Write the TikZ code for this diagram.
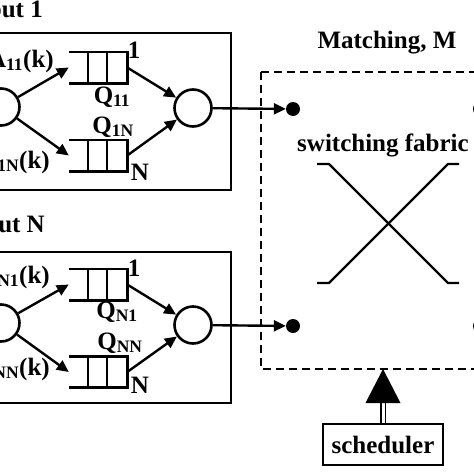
\documentclass[tikz,border=0pt]{standalone}
\usepackage{fontspec}
\setmainfont{Liberation Serif}
\usetikzlibrary{arrows.meta,positioning}

\begin{document}
\begin{tikzpicture}[x=1pt,y=-1pt,
  every node/.style={font=\bfseries\fontsize{25}{28}\selectfont,inner sep=0pt},
  ring/.style={circle,draw,line width=2.6pt,minimum size=37pt},
  qbox/.style={minimum width=58pt,minimum height=31pt},
  flow/.style={line width=2.4pt,-{Triangle[length=12pt,width=11pt]}},
  port/.style={circle,fill,minimum size=14pt},
  frame/.style={draw,line width=2.6pt}]
			\useasboundingbox (0,0) rectangle (474,474);
			\clip (0,0) rectangle (474,474);
			
			% input 1
			\draw[frame] (-30,33) rectangle (231,190);
			\node[anchor=east] (t1) at (43,12) {Input 1};
			\node[ring] (i1) at (1,107) {};
			\node[qbox] (q11) at (98,67.5) {};
			\node[qbox] (q1N) at (98,155.5) {};
			\node[ring] (o1) at (193,108) {};
			\node[anchor=east] (a11) at (54,61) {A\textsubscript{11}(k)};
			\node[anchor=east] (a1N) at (50,162) {A\textsubscript{1N}(k)};
			\node (l11) at (134,50) {1};
			\node (l1N) at (140,172) {N};
			\node (n11) at (112,97) {Q\textsubscript{11}};
			\node (n1N) at (113,127) {Q\textsubscript{1N}};
			
			% input N
			\draw[frame] (-30,252) rectangle (231,403);
			\node[anchor=east] (tN) at (45,227) {Input N};
			\node[ring] (i2) at (1,323) {};
			\node[qbox] (qN1) at (98,284.5) {};
			\node[qbox] (qNN) at (98,372) {};
			\node[ring] (o2) at (193,325) {};
			\node[anchor=east] (aN1) at (50,277) {A\textsubscript{N1}(k)};
			\node[anchor=east] (aNN) at (50,369) {A\textsubscript{NN}(k)};
			\node (lN1) at (134,268) {1};
			\node (lNN) at (140,385) {N};
			\node (nN1) at (117,312) {Q\textsubscript{N1}};
			\node (nNN) at (120,343) {Q\textsubscript{NN}};
			
			% queues
			\foreach \q in {q11,q1N,qN1,qNN}{
				\draw[line width=2.6pt] (\q.north west) -- (\q.north east) -- (\q.south east) -- (\q.south west);
				\draw[line width=2.6pt] ([xshift=19pt]\q.north west) -- ([xshift=19pt]\q.south west);
				\draw[line width=2.6pt] ([xshift=38pt]\q.north west) -- ([xshift=38pt]\q.south west);
			}
			
			\draw[flow] (i1) -- (q11.west);
			\draw[flow] (i1) -- (q1N.west);
			\draw[flow] (q11.east) -- (o1);
			\draw[flow] (q1N.east) -- (o1);
			\draw[flow] (i2) -- (qN1.west);
			\draw[flow] (i2) -- (qNN.west);
			\draw[flow] (qN1.east) -- (o2);
			\draw[flow] (qNN.east) -- (o2);
			
			% switching fabric
			\draw[line width=2.6pt,dash pattern=on 8pt off 5pt] (261,72) -- (261,369) -- (500,369);
			\draw[line width=2.6pt,dash pattern=on 8pt off 5pt] (261,72) -- (500,72);
			\node (match) at (387,43) {Matching, M};
			\node (fab) at (383,145) {switching fabric};
			\node[port] (d1) at (293,109) {};
			\node[port] (d2) at (293,326) {};
			\node[port] (e1) at (480,109) {};
			\node[port] (e2) at (480,326) {};
			\draw[flow] (o1) -- (d1);
			\draw[flow] (o2) -- (d2);
			\draw[line width=2.4pt] (317,164) -- (329,164) -- (448,283) -- (459,283);
			\draw[line width=2.4pt] (459,164) -- (448,164) -- (329,283) -- (317,283);
			
			% scheduler
			\node[frame,minimum width=120pt,minimum height=41pt] (sched) at (383,444.5) {scheduler};
			\coordinate (mtip) at (383,369);
			\draw[line width=1.3pt,double distance=3pt] (sched.north) -- ([yshift=-34pt]mtip);
			\fill (mtip) -- ++(-17.5,34) -- ++(35,0) -- cycle;
		\end{tikzpicture}
\end{document}
